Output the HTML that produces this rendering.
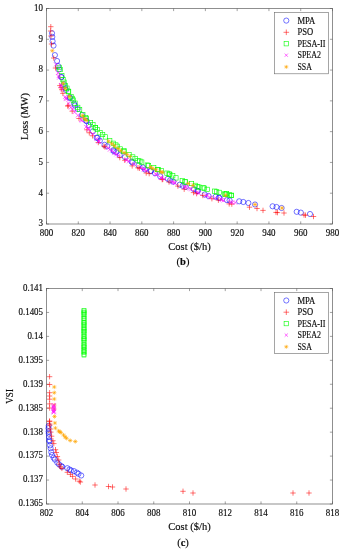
<!DOCTYPE html>
<html><head><meta charset="utf-8"><title>Pareto fronts</title>
<style>html,body{margin:0;padding:0;background:#fff}svg{display:block}text{stroke:#0a0a0a;stroke-width:0.15px}</style></head>
<body>
<svg width="343" height="550" viewBox="0 0 343 550" font-family='"Liberation Serif", "DejaVu Serif", serif' fill="#0a0a0a">
<rect width="343" height="550" fill="#fff"/>
<rect x="46.5" y="8.5" width="286.0" height="215.5" fill="none" stroke="#555" stroke-width="0.65"/>
<path d="M46.50 224.0v-2.6M46.50 8.5v2.6M78.28 224.0v-2.6M78.28 8.5v2.6M110.06 224.0v-2.6M110.06 8.5v2.6M141.83 224.0v-2.6M141.83 8.5v2.6M173.61 224.0v-2.6M173.61 8.5v2.6M205.39 224.0v-2.6M205.39 8.5v2.6M237.17 224.0v-2.6M237.17 8.5v2.6M268.94 224.0v-2.6M268.94 8.5v2.6M300.72 224.0v-2.6M300.72 8.5v2.6M332.50 224.0v-2.6M332.50 8.5v2.6M46.5 8.50h2.6M332.5 8.50h-2.6M46.5 39.29h2.6M332.5 39.29h-2.6M46.5 70.07h2.6M332.5 70.07h-2.6M46.5 100.86h2.6M332.5 100.86h-2.6M46.5 131.64h2.6M332.5 131.64h-2.6M46.5 162.43h2.6M332.5 162.43h-2.6M46.5 193.21h2.6M332.5 193.21h-2.6M46.5 224.00h2.6M332.5 224.00h-2.6" stroke="#555" stroke-width="0.55" fill="none"/>
<text x="46.5" y="236.2" text-anchor="middle" font-size="9.5" textLength="13.4" lengthAdjust="spacingAndGlyphs">800</text>
<text x="78.3" y="236.2" text-anchor="middle" font-size="9.5" textLength="13.4" lengthAdjust="spacingAndGlyphs">820</text>
<text x="110.1" y="236.2" text-anchor="middle" font-size="9.5" textLength="13.4" lengthAdjust="spacingAndGlyphs">840</text>
<text x="141.8" y="236.2" text-anchor="middle" font-size="9.5" textLength="13.4" lengthAdjust="spacingAndGlyphs">860</text>
<text x="173.6" y="236.2" text-anchor="middle" font-size="9.5" textLength="13.4" lengthAdjust="spacingAndGlyphs">880</text>
<text x="205.4" y="236.2" text-anchor="middle" font-size="9.5" textLength="13.4" lengthAdjust="spacingAndGlyphs">900</text>
<text x="237.2" y="236.2" text-anchor="middle" font-size="9.5" textLength="13.4" lengthAdjust="spacingAndGlyphs">920</text>
<text x="268.9" y="236.2" text-anchor="middle" font-size="9.5" textLength="13.4" lengthAdjust="spacingAndGlyphs">940</text>
<text x="300.7" y="236.2" text-anchor="middle" font-size="9.5" textLength="13.4" lengthAdjust="spacingAndGlyphs">960</text>
<text x="332.5" y="236.2" text-anchor="middle" font-size="9.5" textLength="13.4" lengthAdjust="spacingAndGlyphs">980</text>
<text x="43.0" y="10.8" text-anchor="end" font-size="9.5" textLength="8.9" lengthAdjust="spacingAndGlyphs">10</text>
<text x="43.0" y="41.6" text-anchor="end" font-size="9.5" textLength="4.5" lengthAdjust="spacingAndGlyphs">9</text>
<text x="43.0" y="72.4" text-anchor="end" font-size="9.5" textLength="4.5" lengthAdjust="spacingAndGlyphs">8</text>
<text x="43.0" y="103.2" text-anchor="end" font-size="9.5" textLength="4.5" lengthAdjust="spacingAndGlyphs">7</text>
<text x="43.0" y="133.9" text-anchor="end" font-size="9.5" textLength="4.5" lengthAdjust="spacingAndGlyphs">6</text>
<text x="43.0" y="164.7" text-anchor="end" font-size="9.5" textLength="4.5" lengthAdjust="spacingAndGlyphs">5</text>
<text x="43.0" y="195.5" text-anchor="end" font-size="9.5" textLength="4.5" lengthAdjust="spacingAndGlyphs">4</text>
<text x="43.0" y="226.3" text-anchor="end" font-size="9.5" textLength="4.5" lengthAdjust="spacingAndGlyphs">3</text>
<g><circle cx="52.0" cy="33.2" r="2.6" fill="none" stroke="#0000ff" stroke-width="0.55"/><circle cx="52.3" cy="36.9" r="2.6" fill="none" stroke="#0000ff" stroke-width="0.55"/><circle cx="52.6" cy="41.2" r="2.6" fill="none" stroke="#0000ff" stroke-width="0.55"/><circle cx="53.5" cy="45.6" r="2.6" fill="none" stroke="#0000ff" stroke-width="0.55"/><circle cx="54.9" cy="55.1" r="2.6" fill="none" stroke="#0000ff" stroke-width="0.55"/><circle cx="57.1" cy="61.0" r="2.6" fill="none" stroke="#0000ff" stroke-width="0.55"/><circle cx="58.2" cy="66.1" r="2.6" fill="none" stroke="#0000ff" stroke-width="0.55"/><circle cx="59.0" cy="69.5" r="2.6" fill="none" stroke="#0000ff" stroke-width="0.55"/><circle cx="61.4" cy="77.0" r="2.6" fill="none" stroke="#0000ff" stroke-width="0.55"/><circle cx="61.3" cy="77.1" r="2.6" fill="none" stroke="#0000ff" stroke-width="0.55"/><circle cx="63.9" cy="84.4" r="2.6" fill="none" stroke="#0000ff" stroke-width="0.55"/><circle cx="65.2" cy="88.2" r="2.6" fill="none" stroke="#0000ff" stroke-width="0.55"/><circle cx="65.9" cy="90.0" r="2.6" fill="none" stroke="#0000ff" stroke-width="0.55"/><circle cx="69.7" cy="97.2" r="2.6" fill="none" stroke="#0000ff" stroke-width="0.55"/><circle cx="69.9" cy="98.1" r="2.6" fill="none" stroke="#0000ff" stroke-width="0.55"/><circle cx="74.1" cy="103.8" r="2.6" fill="none" stroke="#0000ff" stroke-width="0.55"/><circle cx="74.9" cy="105.5" r="2.6" fill="none" stroke="#0000ff" stroke-width="0.55"/><circle cx="77.7" cy="109.1" r="2.6" fill="none" stroke="#0000ff" stroke-width="0.55"/><circle cx="82.0" cy="115.1" r="2.6" fill="none" stroke="#0000ff" stroke-width="0.55"/><circle cx="86.8" cy="121.2" r="2.6" fill="none" stroke="#0000ff" stroke-width="0.55"/><circle cx="85.9" cy="120.6" r="2.6" fill="none" stroke="#0000ff" stroke-width="0.55"/><circle cx="88.9" cy="125.2" r="2.6" fill="none" stroke="#0000ff" stroke-width="0.55"/><circle cx="92.9" cy="131.3" r="2.6" fill="none" stroke="#0000ff" stroke-width="0.55"/><circle cx="96.6" cy="137.7" r="2.6" fill="none" stroke="#0000ff" stroke-width="0.55"/><circle cx="97.5" cy="137.8" r="2.6" fill="none" stroke="#0000ff" stroke-width="0.55"/><circle cx="99.8" cy="140.7" r="2.6" fill="none" stroke="#0000ff" stroke-width="0.55"/><circle cx="107.3" cy="146.3" r="2.6" fill="none" stroke="#0000ff" stroke-width="0.55"/><circle cx="104.6" cy="144.8" r="2.6" fill="none" stroke="#0000ff" stroke-width="0.55"/><circle cx="113.8" cy="151.2" r="2.6" fill="none" stroke="#0000ff" stroke-width="0.55"/><circle cx="113.5" cy="150.2" r="2.6" fill="none" stroke="#0000ff" stroke-width="0.55"/><circle cx="116.2" cy="152.2" r="2.6" fill="none" stroke="#0000ff" stroke-width="0.55"/><circle cx="119.7" cy="155.1" r="2.6" fill="none" stroke="#0000ff" stroke-width="0.55"/><circle cx="125.0" cy="157.1" r="2.6" fill="none" stroke="#0000ff" stroke-width="0.55"/><circle cx="132.4" cy="162.5" r="2.6" fill="none" stroke="#0000ff" stroke-width="0.55"/><circle cx="131.6" cy="161.6" r="2.6" fill="none" stroke="#0000ff" stroke-width="0.55"/><circle cx="138.6" cy="165.3" r="2.6" fill="none" stroke="#0000ff" stroke-width="0.55"/><circle cx="143.1" cy="167.4" r="2.6" fill="none" stroke="#0000ff" stroke-width="0.55"/><circle cx="145.1" cy="169.5" r="2.6" fill="none" stroke="#0000ff" stroke-width="0.55"/><circle cx="150.5" cy="170.8" r="2.6" fill="none" stroke="#0000ff" stroke-width="0.55"/><circle cx="150.9" cy="171.2" r="2.6" fill="none" stroke="#0000ff" stroke-width="0.55"/><circle cx="155.0" cy="173.2" r="2.6" fill="none" stroke="#0000ff" stroke-width="0.55"/><circle cx="160.2" cy="176.3" r="2.6" fill="none" stroke="#0000ff" stroke-width="0.55"/><circle cx="167.9" cy="178.8" r="2.6" fill="none" stroke="#0000ff" stroke-width="0.55"/><circle cx="170.0" cy="180.3" r="2.6" fill="none" stroke="#0000ff" stroke-width="0.55"/><circle cx="173.3" cy="181.7" r="2.6" fill="none" stroke="#0000ff" stroke-width="0.55"/><circle cx="179.7" cy="184.7" r="2.6" fill="none" stroke="#0000ff" stroke-width="0.55"/><circle cx="182.8" cy="185.8" r="2.6" fill="none" stroke="#0000ff" stroke-width="0.55"/><circle cx="185.8" cy="187.0" r="2.6" fill="none" stroke="#0000ff" stroke-width="0.55"/><circle cx="193.9" cy="189.2" r="2.6" fill="none" stroke="#0000ff" stroke-width="0.55"/><circle cx="197.3" cy="190.8" r="2.6" fill="none" stroke="#0000ff" stroke-width="0.55"/><circle cx="197.9" cy="190.9" r="2.6" fill="none" stroke="#0000ff" stroke-width="0.55"/><circle cx="204.7" cy="194.5" r="2.6" fill="none" stroke="#0000ff" stroke-width="0.55"/><circle cx="208.5" cy="196.0" r="2.6" fill="none" stroke="#0000ff" stroke-width="0.55"/><circle cx="215.7" cy="196.7" r="2.6" fill="none" stroke="#0000ff" stroke-width="0.55"/><circle cx="218.8" cy="197.7" r="2.6" fill="none" stroke="#0000ff" stroke-width="0.55"/><circle cx="219.5" cy="197.9" r="2.6" fill="none" stroke="#0000ff" stroke-width="0.55"/><circle cx="229.6" cy="200.4" r="2.6" fill="none" stroke="#0000ff" stroke-width="0.55"/><circle cx="226.9" cy="200.1" r="2.6" fill="none" stroke="#0000ff" stroke-width="0.55"/><circle cx="239.2" cy="201.3" r="2.6" fill="none" stroke="#0000ff" stroke-width="0.55"/><circle cx="243.3" cy="202.0" r="2.6" fill="none" stroke="#0000ff" stroke-width="0.55"/><circle cx="248.4" cy="203.0" r="2.6" fill="none" stroke="#0000ff" stroke-width="0.55"/><circle cx="255.0" cy="204.5" r="2.6" fill="none" stroke="#0000ff" stroke-width="0.55"/><circle cx="272.6" cy="206.3" r="2.6" fill="none" stroke="#0000ff" stroke-width="0.55"/><circle cx="276.5" cy="207.0" r="2.6" fill="none" stroke="#0000ff" stroke-width="0.55"/><circle cx="281.6" cy="208.0" r="2.6" fill="none" stroke="#0000ff" stroke-width="0.55"/><circle cx="296.7" cy="211.8" r="2.6" fill="none" stroke="#0000ff" stroke-width="0.55"/><circle cx="300.8" cy="212.6" r="2.6" fill="none" stroke="#0000ff" stroke-width="0.55"/><circle cx="310.0" cy="214.0" r="2.6" fill="none" stroke="#0000ff" stroke-width="0.55"/><path d="M48.1 26.7H53.5M50.8 24.0V29.4" stroke="#ff0000" stroke-width="0.55" fill="none"/><path d="M47.9 31.0H53.3M50.6 28.3V33.7" stroke="#ff0000" stroke-width="0.55" fill="none"/><path d="M48.3 36.0H53.7M51.0 33.3V38.7" stroke="#ff0000" stroke-width="0.55" fill="none"/><path d="M48.8 44.0H54.2M51.5 41.3V46.7" stroke="#ff0000" stroke-width="0.55" fill="none"/><path d="M51.0 58.0H56.4M53.7 55.3V60.7" stroke="#ff0000" stroke-width="0.55" fill="none"/><path d="M52.8 68.0H58.2M55.5 65.3V70.7" stroke="#ff0000" stroke-width="0.55" fill="none"/><path d="M57.2 85.6H62.6M59.9 82.9V88.3" stroke="#ff0000" stroke-width="0.55" fill="none"/><path d="M65.0 106.0H70.4M67.7 103.3V108.7" stroke="#ff0000" stroke-width="0.55" fill="none"/><path d="M58.2 87.7H63.6M60.9 85.0V90.4" stroke="#ff0000" stroke-width="0.55" fill="none"/><path d="M59.0 89.7H64.4M61.7 87.0V92.4" stroke="#ff0000" stroke-width="0.55" fill="none"/><path d="M60.2 93.4H65.6M62.9 90.7V96.1" stroke="#ff0000" stroke-width="0.55" fill="none"/><path d="M65.6 105.7H71.0M68.3 103.0V108.4" stroke="#ff0000" stroke-width="0.55" fill="none"/><path d="M69.5 111.2H74.9M72.2 108.5V113.9" stroke="#ff0000" stroke-width="0.55" fill="none"/><path d="M76.3 118.5H81.7M79.0 115.8V121.2" stroke="#ff0000" stroke-width="0.55" fill="none"/><path d="M84.2 129.8H89.6M86.9 127.1V132.5" stroke="#ff0000" stroke-width="0.55" fill="none"/><path d="M86.6 132.8H92.0M89.3 130.1V135.5" stroke="#ff0000" stroke-width="0.55" fill="none"/><path d="M89.8 135.8H95.2M92.5 133.1V138.5" stroke="#ff0000" stroke-width="0.55" fill="none"/><path d="M95.6 142.5H101.0M98.3 139.8V145.2" stroke="#ff0000" stroke-width="0.55" fill="none"/><path d="M102.2 146.9H107.6M104.9 144.2V149.6" stroke="#ff0000" stroke-width="0.55" fill="none"/><path d="M101.2 146.1H106.6M103.9 143.4V148.8" stroke="#ff0000" stroke-width="0.55" fill="none"/><path d="M117.1 157.6H122.5M119.8 154.9V160.3" stroke="#ff0000" stroke-width="0.55" fill="none"/><path d="M122.1 160.3H127.5M124.8 157.6V163.0" stroke="#ff0000" stroke-width="0.55" fill="none"/><path d="M129.5 165.9H134.9M132.2 163.2V168.6" stroke="#ff0000" stroke-width="0.55" fill="none"/><path d="M135.2 167.8H140.6M137.9 165.1V170.5" stroke="#ff0000" stroke-width="0.55" fill="none"/><path d="M136.7 168.3H142.1M139.4 165.6V171.0" stroke="#ff0000" stroke-width="0.55" fill="none"/><path d="M143.5 173.0H148.9M146.2 170.3V175.7" stroke="#ff0000" stroke-width="0.55" fill="none"/><path d="M146.5 173.6H151.9M149.2 170.9V176.3" stroke="#ff0000" stroke-width="0.55" fill="none"/><path d="M160.1 179.3H165.5M162.8 176.6V182.0" stroke="#ff0000" stroke-width="0.55" fill="none"/><path d="M159.5 179.6H164.9M162.2 176.9V182.3" stroke="#ff0000" stroke-width="0.55" fill="none"/><path d="M166.3 182.0H171.7M169.0 179.3V184.7" stroke="#ff0000" stroke-width="0.55" fill="none"/><path d="M175.2 186.1H180.6M177.9 183.4V188.8" stroke="#ff0000" stroke-width="0.55" fill="none"/><path d="M181.5 189.2H186.9M184.2 186.5V191.9" stroke="#ff0000" stroke-width="0.55" fill="none"/><path d="M190.8 192.6H196.2M193.5 189.9V195.3" stroke="#ff0000" stroke-width="0.55" fill="none"/><path d="M193.9 193.6H199.3M196.6 190.9V196.3" stroke="#ff0000" stroke-width="0.55" fill="none"/><path d="M200.1 195.5H205.5M202.8 192.8V198.2" stroke="#ff0000" stroke-width="0.55" fill="none"/><path d="M209.2 198.7H214.6M211.9 196.0V201.4" stroke="#ff0000" stroke-width="0.55" fill="none"/><path d="M215.7 200.2H221.1M218.4 197.5V202.9" stroke="#ff0000" stroke-width="0.55" fill="none"/><path d="M226.5 203.9H231.9M229.2 201.2V206.6" stroke="#ff0000" stroke-width="0.55" fill="none"/><path d="M229.1 204.1H234.5M231.8 201.4V206.8" stroke="#ff0000" stroke-width="0.55" fill="none"/><path d="M246.8 207.2H252.2M249.5 204.5V209.9" stroke="#ff0000" stroke-width="0.55" fill="none"/><path d="M254.3 208.5H259.7M257.0 205.8V211.2" stroke="#ff0000" stroke-width="0.55" fill="none"/><path d="M260.3 210.4H265.7M263.0 207.7V213.1" stroke="#ff0000" stroke-width="0.55" fill="none"/><path d="M273.3 212.4H278.7M276.0 209.7V215.1" stroke="#ff0000" stroke-width="0.55" fill="none"/><path d="M274.8 212.6H280.2M277.5 209.9V215.3" stroke="#ff0000" stroke-width="0.55" fill="none"/><path d="M281.3 213.0H286.7M284.0 210.3V215.7" stroke="#ff0000" stroke-width="0.55" fill="none"/><path d="M301.3 215.0H306.7M304.0 212.3V217.7" stroke="#ff0000" stroke-width="0.55" fill="none"/><path d="M302.8 215.2H308.2M305.5 212.5V217.9" stroke="#ff0000" stroke-width="0.55" fill="none"/><path d="M310.8 216.5H316.2M313.5 213.8V219.2" stroke="#ff0000" stroke-width="0.55" fill="none"/><rect x="57.0" y="65.2" width="4.4" height="4.4" fill="none" stroke="#00ff00" stroke-width="0.6"/><rect x="57.9" y="67.3" width="4.4" height="4.4" fill="none" stroke="#00ff00" stroke-width="0.6"/><rect x="59.6" y="73.3" width="4.4" height="4.4" fill="none" stroke="#00ff00" stroke-width="0.6"/><rect x="60.8" y="77.4" width="4.4" height="4.4" fill="none" stroke="#00ff00" stroke-width="0.6"/><rect x="61.8" y="80.0" width="4.4" height="4.4" fill="none" stroke="#00ff00" stroke-width="0.6"/><rect x="63.2" y="83.3" width="4.4" height="4.4" fill="none" stroke="#00ff00" stroke-width="0.6"/><rect x="64.7" y="86.0" width="4.4" height="4.4" fill="none" stroke="#00ff00" stroke-width="0.6"/><rect x="66.0" y="89.0" width="4.4" height="4.4" fill="none" stroke="#00ff00" stroke-width="0.6"/><rect x="66.4" y="89.5" width="4.4" height="4.4" fill="none" stroke="#00ff00" stroke-width="0.6"/><rect x="68.8" y="94.6" width="4.4" height="4.4" fill="none" stroke="#00ff00" stroke-width="0.6"/><rect x="70.1" y="96.2" width="4.4" height="4.4" fill="none" stroke="#00ff00" stroke-width="0.6"/><rect x="71.1" y="97.9" width="4.4" height="4.4" fill="none" stroke="#00ff00" stroke-width="0.6"/><rect x="72.8" y="101.0" width="4.4" height="4.4" fill="none" stroke="#00ff00" stroke-width="0.6"/><rect x="75.5" y="105.2" width="4.4" height="4.4" fill="none" stroke="#00ff00" stroke-width="0.6"/><rect x="77.4" y="107.3" width="4.4" height="4.4" fill="none" stroke="#00ff00" stroke-width="0.6"/><rect x="80.6" y="112.4" width="4.4" height="4.4" fill="none" stroke="#00ff00" stroke-width="0.6"/><rect x="83.5" y="115.5" width="4.4" height="4.4" fill="none" stroke="#00ff00" stroke-width="0.6"/><rect x="84.2" y="116.3" width="4.4" height="4.4" fill="none" stroke="#00ff00" stroke-width="0.6"/><rect x="88.3" y="120.3" width="4.4" height="4.4" fill="none" stroke="#00ff00" stroke-width="0.6"/><rect x="90.7" y="122.4" width="4.4" height="4.4" fill="none" stroke="#00ff00" stroke-width="0.6"/><rect x="92.9" y="125.4" width="4.4" height="4.4" fill="none" stroke="#00ff00" stroke-width="0.6"/><rect x="93.3" y="125.5" width="4.4" height="4.4" fill="none" stroke="#00ff00" stroke-width="0.6"/><rect x="95.1" y="127.3" width="4.4" height="4.4" fill="none" stroke="#00ff00" stroke-width="0.6"/><rect x="97.8" y="130.5" width="4.4" height="4.4" fill="none" stroke="#00ff00" stroke-width="0.6"/><rect x="100.4" y="132.3" width="4.4" height="4.4" fill="none" stroke="#00ff00" stroke-width="0.6"/><rect x="103.2" y="134.7" width="4.4" height="4.4" fill="none" stroke="#00ff00" stroke-width="0.6"/><rect x="107.5" y="138.4" width="4.4" height="4.4" fill="none" stroke="#00ff00" stroke-width="0.6"/><rect x="111.2" y="141.1" width="4.4" height="4.4" fill="none" stroke="#00ff00" stroke-width="0.6"/><rect x="113.6" y="142.8" width="4.4" height="4.4" fill="none" stroke="#00ff00" stroke-width="0.6"/><rect x="114.9" y="144.1" width="4.4" height="4.4" fill="none" stroke="#00ff00" stroke-width="0.6"/><rect x="118.2" y="146.8" width="4.4" height="4.4" fill="none" stroke="#00ff00" stroke-width="0.6"/><rect x="121.7" y="149.3" width="4.4" height="4.4" fill="none" stroke="#00ff00" stroke-width="0.6"/><rect x="121.7" y="148.5" width="4.4" height="4.4" fill="none" stroke="#00ff00" stroke-width="0.6"/><rect x="126.8" y="152.4" width="4.4" height="4.4" fill="none" stroke="#00ff00" stroke-width="0.6"/><rect x="130.5" y="154.8" width="4.4" height="4.4" fill="none" stroke="#00ff00" stroke-width="0.6"/><rect x="132.9" y="156.3" width="4.4" height="4.4" fill="none" stroke="#00ff00" stroke-width="0.6"/><rect x="135.8" y="158.4" width="4.4" height="4.4" fill="none" stroke="#00ff00" stroke-width="0.6"/><rect x="137.7" y="159.0" width="4.4" height="4.4" fill="none" stroke="#00ff00" stroke-width="0.6"/><rect x="139.5" y="159.9" width="4.4" height="4.4" fill="none" stroke="#00ff00" stroke-width="0.6"/><rect x="145.2" y="162.9" width="4.4" height="4.4" fill="none" stroke="#00ff00" stroke-width="0.6"/><rect x="146.3" y="163.6" width="4.4" height="4.4" fill="none" stroke="#00ff00" stroke-width="0.6"/><rect x="151.5" y="165.4" width="4.4" height="4.4" fill="none" stroke="#00ff00" stroke-width="0.6"/><rect x="155.4" y="167.3" width="4.4" height="4.4" fill="none" stroke="#00ff00" stroke-width="0.6"/><rect x="156.0" y="167.4" width="4.4" height="4.4" fill="none" stroke="#00ff00" stroke-width="0.6"/><rect x="159.2" y="168.5" width="4.4" height="4.4" fill="none" stroke="#00ff00" stroke-width="0.6"/><rect x="164.8" y="171.0" width="4.4" height="4.4" fill="none" stroke="#00ff00" stroke-width="0.6"/><rect x="166.9" y="171.8" width="4.4" height="4.4" fill="none" stroke="#00ff00" stroke-width="0.6"/><rect x="167.6" y="172.2" width="4.4" height="4.4" fill="none" stroke="#00ff00" stroke-width="0.6"/><rect x="170.5" y="173.6" width="4.4" height="4.4" fill="none" stroke="#00ff00" stroke-width="0.6"/><rect x="173.7" y="175.7" width="4.4" height="4.4" fill="none" stroke="#00ff00" stroke-width="0.6"/><rect x="180.1" y="178.3" width="4.4" height="4.4" fill="none" stroke="#00ff00" stroke-width="0.6"/><rect x="182.8" y="179.6" width="4.4" height="4.4" fill="none" stroke="#00ff00" stroke-width="0.6"/><rect x="183.1" y="179.8" width="4.4" height="4.4" fill="none" stroke="#00ff00" stroke-width="0.6"/><rect x="189.3" y="181.3" width="4.4" height="4.4" fill="none" stroke="#00ff00" stroke-width="0.6"/><rect x="193.2" y="183.2" width="4.4" height="4.4" fill="none" stroke="#00ff00" stroke-width="0.6"/><rect x="194.9" y="184.4" width="4.4" height="4.4" fill="none" stroke="#00ff00" stroke-width="0.6"/><rect x="196.7" y="184.9" width="4.4" height="4.4" fill="none" stroke="#00ff00" stroke-width="0.6"/><rect x="200.8" y="185.6" width="4.4" height="4.4" fill="none" stroke="#00ff00" stroke-width="0.6"/><rect x="202.2" y="186.0" width="4.4" height="4.4" fill="none" stroke="#00ff00" stroke-width="0.6"/><rect x="204.9" y="187.2" width="4.4" height="4.4" fill="none" stroke="#00ff00" stroke-width="0.6"/><rect x="212.6" y="189.0" width="4.4" height="4.4" fill="none" stroke="#00ff00" stroke-width="0.6"/><rect x="214.4" y="189.7" width="4.4" height="4.4" fill="none" stroke="#00ff00" stroke-width="0.6"/><rect x="217.1" y="190.2" width="4.4" height="4.4" fill="none" stroke="#00ff00" stroke-width="0.6"/><rect x="222.4" y="191.8" width="4.4" height="4.4" fill="none" stroke="#00ff00" stroke-width="0.6"/><rect x="223.5" y="192.1" width="4.4" height="4.4" fill="none" stroke="#00ff00" stroke-width="0.6"/><rect x="228.8" y="193.3" width="4.4" height="4.4" fill="none" stroke="#00ff00" stroke-width="0.6"/><rect x="224.3" y="191.4" width="4.4" height="4.4" fill="none" stroke="#00ff00" stroke-width="0.6"/><rect x="227.3" y="192.7" width="4.4" height="4.4" fill="none" stroke="#00ff00" stroke-width="0.6"/><rect x="229.3" y="193.1" width="4.4" height="4.4" fill="none" stroke="#00ff00" stroke-width="0.6"/><path d="M54.0 62.5L58.0 66.5M54.0 66.5L58.0 62.5" stroke="#ff00ff" stroke-width="0.6" fill="none"/><path d="M55.9 71.0L59.9 75.0M55.9 75.0L59.9 71.0" stroke="#ff00ff" stroke-width="0.6" fill="none"/><path d="M57.1 75.6L61.1 79.6M57.1 79.6L61.1 75.6" stroke="#ff00ff" stroke-width="0.6" fill="none"/><path d="M56.7 74.1L60.7 78.1M56.7 78.1L60.7 74.1" stroke="#ff00ff" stroke-width="0.6" fill="none"/><path d="M59.2 83.2L63.2 87.2M59.2 87.2L63.2 83.2" stroke="#ff00ff" stroke-width="0.6" fill="none"/><path d="M59.2 83.7L63.2 87.7M59.2 87.7L63.2 83.7" stroke="#ff00ff" stroke-width="0.6" fill="none"/><path d="M60.5 87.4L64.5 91.4M60.5 91.4L64.5 87.4" stroke="#ff00ff" stroke-width="0.6" fill="none"/><path d="M63.3 94.9L67.3 98.9M63.3 98.9L67.3 94.9" stroke="#ff00ff" stroke-width="0.6" fill="none"/><path d="M64.3 97.1L68.3 101.1M64.3 101.1L68.3 97.1" stroke="#ff00ff" stroke-width="0.6" fill="none"/><path d="M63.9 96.3L67.9 100.3M63.9 100.3L67.9 96.3" stroke="#ff00ff" stroke-width="0.6" fill="none"/><path d="M66.5 101.2L70.5 105.2M66.5 105.2L70.5 101.2" stroke="#ff00ff" stroke-width="0.6" fill="none"/><path d="M68.8 105.5L72.8 109.5M68.8 109.5L72.8 105.5" stroke="#ff00ff" stroke-width="0.6" fill="none"/><path d="M70.6 107.1L74.6 111.1M70.6 111.1L74.6 107.1" stroke="#ff00ff" stroke-width="0.6" fill="none"/><path d="M72.6 110.1L76.6 114.1M72.6 114.1L76.6 110.1" stroke="#ff00ff" stroke-width="0.6" fill="none"/><path d="M75.9 113.4L79.9 117.4M75.9 117.4L79.9 113.4" stroke="#ff00ff" stroke-width="0.6" fill="none"/><path d="M79.9 118.6L83.9 122.6M79.9 122.6L83.9 118.6" stroke="#ff00ff" stroke-width="0.6" fill="none"/><path d="M79.2 118.0L83.2 122.0M79.2 122.0L83.2 118.0" stroke="#ff00ff" stroke-width="0.6" fill="none"/><path d="M84.1 124.9L88.1 128.9M84.1 128.9L88.1 124.9" stroke="#ff00ff" stroke-width="0.6" fill="none"/><path d="M86.1 126.0L90.1 130.0M86.1 130.0L90.1 126.0" stroke="#ff00ff" stroke-width="0.6" fill="none"/><path d="M86.6 127.6L90.6 131.6M86.6 131.6L90.6 127.6" stroke="#ff00ff" stroke-width="0.6" fill="none"/><path d="M90.7 131.9L94.7 135.9M90.7 135.9L94.7 131.9" stroke="#ff00ff" stroke-width="0.6" fill="none"/><path d="M94.5 136.8L98.5 140.8M94.5 140.8L98.5 136.8" stroke="#ff00ff" stroke-width="0.6" fill="none"/><path d="M96.7 139.4L100.7 143.4M96.7 143.4L100.7 139.4" stroke="#ff00ff" stroke-width="0.6" fill="none"/><path d="M97.2 139.2L101.2 143.2M97.2 143.2L101.2 139.2" stroke="#ff00ff" stroke-width="0.6" fill="none"/><path d="M105.9 145.9L109.9 149.9M105.9 149.9L109.9 145.9" stroke="#ff00ff" stroke-width="0.6" fill="none"/><path d="M107.9 147.6L111.9 151.6M107.9 151.6L111.9 147.6" stroke="#ff00ff" stroke-width="0.6" fill="none"/><path d="M112.2 151.1L116.2 155.1M112.2 155.1L116.2 151.1" stroke="#ff00ff" stroke-width="0.6" fill="none"/><path d="M110.1 148.7L114.1 152.7M110.1 152.7L114.1 148.7" stroke="#ff00ff" stroke-width="0.6" fill="none"/><path d="M114.4 152.3L118.4 156.3M114.4 156.3L118.4 152.3" stroke="#ff00ff" stroke-width="0.6" fill="none"/><path d="M116.3 153.4L120.3 157.4M116.3 157.4L120.3 153.4" stroke="#ff00ff" stroke-width="0.6" fill="none"/><path d="M124.5 158.1L128.5 162.1M124.5 162.1L128.5 158.1" stroke="#ff00ff" stroke-width="0.6" fill="none"/><path d="M124.6 157.8L128.6 161.8M124.6 161.8L128.6 157.8" stroke="#ff00ff" stroke-width="0.6" fill="none"/><path d="M127.0 159.3L131.0 163.3M127.0 163.3L131.0 159.3" stroke="#ff00ff" stroke-width="0.6" fill="none"/><path d="M132.2 162.1L136.2 166.1M132.2 166.1L136.2 162.1" stroke="#ff00ff" stroke-width="0.6" fill="none"/><path d="M139.1 165.6L143.1 169.6M139.1 169.6L143.1 165.6" stroke="#ff00ff" stroke-width="0.6" fill="none"/><path d="M142.0 167.0L146.0 171.0M142.0 171.0L146.0 167.0" stroke="#ff00ff" stroke-width="0.6" fill="none"/><path d="M141.8 167.8L145.8 171.8M141.8 171.8L145.8 167.8" stroke="#ff00ff" stroke-width="0.6" fill="none"/><path d="M144.6 168.4L148.6 172.4M144.6 172.4L148.6 168.4" stroke="#ff00ff" stroke-width="0.6" fill="none"/><path d="M153.5 172.1L157.5 176.1M153.5 176.1L157.5 172.1" stroke="#ff00ff" stroke-width="0.6" fill="none"/><path d="M154.8 172.6L158.8 176.6M154.8 176.6L158.8 172.6" stroke="#ff00ff" stroke-width="0.6" fill="none"/><path d="M159.2 175.8L163.2 179.8M159.2 179.8L163.2 175.8" stroke="#ff00ff" stroke-width="0.6" fill="none"/><path d="M158.6 175.5L162.6 179.5M158.6 179.5L162.6 175.5" stroke="#ff00ff" stroke-width="0.6" fill="none"/><path d="M161.9 176.9L165.9 180.9M161.9 180.9L165.9 176.9" stroke="#ff00ff" stroke-width="0.6" fill="none"/><path d="M169.9 179.9L173.9 183.9M169.9 183.9L173.9 179.9" stroke="#ff00ff" stroke-width="0.6" fill="none"/><path d="M171.7 180.5L175.7 184.5M171.7 184.5L175.7 180.5" stroke="#ff00ff" stroke-width="0.6" fill="none"/><path d="M173.0 181.0L177.0 185.0M173.0 185.0L177.0 181.0" stroke="#ff00ff" stroke-width="0.6" fill="none"/><path d="M182.8 184.9L186.8 188.9M182.8 188.9L186.8 184.9" stroke="#ff00ff" stroke-width="0.6" fill="none"/><path d="M184.3 185.1L188.3 189.1M184.3 189.1L188.3 185.1" stroke="#ff00ff" stroke-width="0.6" fill="none"/><path d="M189.2 187.3L193.2 191.3M189.2 191.3L193.2 187.3" stroke="#ff00ff" stroke-width="0.6" fill="none"/><path d="M187.8 186.6L191.8 190.6M187.8 190.6L191.8 186.6" stroke="#ff00ff" stroke-width="0.6" fill="none"/><path d="M196.9 191.2L200.9 195.2M196.9 195.2L200.9 191.2" stroke="#ff00ff" stroke-width="0.6" fill="none"/><path d="M195.1 190.4L199.1 194.4M195.1 194.4L199.1 190.4" stroke="#ff00ff" stroke-width="0.6" fill="none"/><path d="M204.2 193.6L208.2 197.6M204.2 197.6L208.2 193.6" stroke="#ff00ff" stroke-width="0.6" fill="none"/><path d="M205.1 193.5L209.1 197.5M205.1 197.5L209.1 193.5" stroke="#ff00ff" stroke-width="0.6" fill="none"/><path d="M208.0 195.4L212.0 199.4M208.0 199.4L212.0 195.4" stroke="#ff00ff" stroke-width="0.6" fill="none"/><path d="M213.4 196.0L217.4 200.0M213.4 200.0L217.4 196.0" stroke="#ff00ff" stroke-width="0.6" fill="none"/><path d="M219.9 197.9L223.9 201.9M219.9 201.9L223.9 197.9" stroke="#ff00ff" stroke-width="0.6" fill="none"/><path d="M218.9 197.1L222.9 201.1M218.9 201.1L222.9 197.1" stroke="#ff00ff" stroke-width="0.6" fill="none"/><path d="M221.7 198.4L225.7 202.4M221.7 202.4L225.7 198.4" stroke="#ff00ff" stroke-width="0.6" fill="none"/><path d="M228.5 200.1L232.5 204.1M228.5 204.1L232.5 200.1" stroke="#ff00ff" stroke-width="0.6" fill="none"/><path d="M230.2 200.5L234.2 204.5M230.2 204.5L234.2 200.5" stroke="#ff00ff" stroke-width="0.6" fill="none"/><path d="M233.2 200.6L237.2 204.6M233.2 204.6L237.2 200.6" stroke="#ff00ff" stroke-width="0.6" fill="none"/><path d="M50.1 50.7H54.4M52.3 48.6V52.9M50.8 49.2L53.8 52.2M50.8 52.2L53.8 49.2" stroke="#ffa500" stroke-width="0.6" fill="none"/><path d="M61.0 83.2H65.3M63.2 81.1V85.4M61.6 81.7L64.7 84.8M61.6 84.8L64.7 81.7" stroke="#ffa500" stroke-width="0.6" fill="none"/><path d="M63.2 88.3H67.5M65.4 86.2V90.5M63.8 86.8L66.9 89.9M63.8 89.9L66.9 86.8" stroke="#ffa500" stroke-width="0.6" fill="none"/><path d="M67.2 96.5H71.5M69.4 94.3V98.6M67.8 94.9L70.9 98.0M67.8 98.0L70.9 94.9" stroke="#ffa500" stroke-width="0.6" fill="none"/><path d="M80.3 115.6H84.6M82.5 113.5V117.8M80.9 114.1L84.0 117.2M80.9 117.2L84.0 114.1" stroke="#ffa500" stroke-width="0.6" fill="none"/><path d="M82.5 118.6H86.8M84.6 116.5V120.8M83.1 117.1L86.2 120.2M83.1 120.2L86.2 117.1" stroke="#ffa500" stroke-width="0.6" fill="none"/><path d="M84.2 120.4H88.5M86.3 118.2V122.5M84.8 118.8L87.9 121.9M84.8 121.9L87.9 118.8" stroke="#ffa500" stroke-width="0.6" fill="none"/><path d="M106.4 141.2H110.7M108.6 139.1V143.4M107.0 139.7L110.1 142.8M107.0 142.8L110.1 139.7" stroke="#ffa500" stroke-width="0.6" fill="none"/><path d="M109.7 143.8H114.0M111.9 141.6V145.9M110.3 142.2L113.4 145.3M110.3 145.3L113.4 142.2" stroke="#ffa500" stroke-width="0.6" fill="none"/><path d="M112.4 145.9H116.7M114.6 143.7V148.0M113.0 144.3L116.1 147.4M113.0 147.4L116.1 144.3" stroke="#ffa500" stroke-width="0.6" fill="none"/><path d="M115.8 148.5H120.1M117.9 146.4V150.7M116.4 147.0L119.5 150.1M116.4 150.1L119.5 147.0" stroke="#ffa500" stroke-width="0.6" fill="none"/><path d="M118.5 150.6H122.8M120.7 148.4V152.7M119.1 149.0L122.2 152.1M119.1 152.1L122.2 149.0" stroke="#ffa500" stroke-width="0.6" fill="none"/><path d="M122.0 152.6H126.3M124.1 150.5V154.8M122.6 151.1L125.7 154.2M122.6 154.2L125.7 151.1" stroke="#ffa500" stroke-width="0.6" fill="none"/><path d="M124.8 154.4H129.1M127.0 152.2V156.5M125.4 152.8L128.5 155.9M125.4 155.9L128.5 152.8" stroke="#ffa500" stroke-width="0.6" fill="none"/><path d="M127.8 156.5H132.1M129.9 154.4V158.7M128.4 155.0L131.5 158.1M128.4 158.1L131.5 155.0" stroke="#ffa500" stroke-width="0.6" fill="none"/><path d="M148.3 167.3H152.6M150.4 165.1V169.4M148.9 165.8L152.0 168.8M148.9 168.8L152.0 165.8" stroke="#ffa500" stroke-width="0.6" fill="none"/><path d="M150.7 168.4H155.0M152.8 166.2V170.5M151.3 166.8L154.4 169.9M151.3 169.9L154.4 166.8" stroke="#ffa500" stroke-width="0.6" fill="none"/><path d="M153.9 169.8H158.2M156.1 167.7V172.0M154.5 168.3L157.6 171.4M154.5 171.4L157.6 168.3" stroke="#ffa500" stroke-width="0.6" fill="none"/><path d="M158.7 171.7H163.0M160.9 169.6V173.9M159.3 170.2L162.4 173.3M159.3 173.3L162.4 170.2" stroke="#ffa500" stroke-width="0.6" fill="none"/><path d="M160.4 172.4H164.7M162.6 170.3V174.6M161.0 170.9L164.1 173.9M161.0 173.9L164.1 170.9" stroke="#ffa500" stroke-width="0.6" fill="none"/><path d="M186.0 183.5H190.3M188.2 181.4V185.7M186.6 182.0L189.7 185.1M186.6 185.1L189.7 182.0" stroke="#ffa500" stroke-width="0.6" fill="none"/><path d="M190.8 185.4H195.1M192.9 183.2V187.5M191.4 183.8L194.5 186.9M191.4 186.9L194.5 183.8" stroke="#ffa500" stroke-width="0.6" fill="none"/><path d="M223.5 195.3H227.8M225.7 193.1V197.4M224.1 193.7L227.2 196.8M224.1 196.8L227.2 193.7" stroke="#ffa500" stroke-width="0.6" fill="none"/><path d="M252.8 204.5H257.1M255.0 202.3V206.7M253.5 203.0L256.5 206.0M253.5 206.0L256.5 203.0" stroke="#ffa500" stroke-width="0.6" fill="none"/><path d="M279.9 208.0H284.1M282.0 205.8V210.2M280.5 206.5L283.5 209.5M280.5 209.5L283.5 206.5" stroke="#ffa500" stroke-width="0.6" fill="none"/></g>
<rect x="274.5" y="12.5" width="54.0" height="61.3" fill="#fff" stroke="#6a6a6a" stroke-width="0.6"/>
<circle cx="286.3" cy="20.6" r="2.6" fill="none" stroke="#0000ff" stroke-width="0.55"/>
<text x="297.5" y="23.6" font-size="9.8" textLength="17.8" lengthAdjust="spacingAndGlyphs">MPA</text>
<path d="M283.5 32.3H289.1M286.3 29.5V35.1" stroke="#ff0000" stroke-width="0.55" fill="none"/>
<text x="297.5" y="35.3" font-size="9.8" textLength="15.7" lengthAdjust="spacingAndGlyphs">PSO</text>
<rect x="284.1" y="41.5" width="4.4" height="4.4" fill="none" stroke="#00ff00" stroke-width="0.6"/>
<text x="297.5" y="46.7" font-size="9.8" textLength="28.0" lengthAdjust="spacingAndGlyphs">PESA-II</text>
<path d="M284.7 53.6L287.9 56.8M284.7 56.8L287.9 53.6" stroke="#ff00ff" stroke-width="0.6" fill="none"/>
<text x="297.5" y="58.2" font-size="9.8" textLength="23.5" lengthAdjust="spacingAndGlyphs">SPEA2</text>
<path d="M284.3 66.9H288.3M286.3 64.9V68.9M284.9 65.5L287.7 68.3M284.9 68.3L287.7 65.5" stroke="#ffa500" stroke-width="0.6" fill="none"/>
<text x="297.5" y="69.9" font-size="9.8" textLength="14.3" lengthAdjust="spacingAndGlyphs">SSA</text>
<text x="189.5" y="249.8" text-anchor="middle" font-size="10.5">Cost ($/h)</text>
<text x="183" y="264.6" text-anchor="middle" font-size="10.5">(<tspan font-weight="bold">b</tspan>)</text>
<text transform="translate(28.2,116.5) rotate(-90)" text-anchor="middle" font-size="10.5" textLength="47" lengthAdjust="spacingAndGlyphs">Loss (MW)</text>
<rect x="46.5" y="288.5" width="286.0" height="215.5" fill="none" stroke="#555" stroke-width="0.65"/>
<path d="M46.50 504.0v-2.6M46.50 288.5v2.6M82.25 504.0v-2.6M82.25 288.5v2.6M118.00 504.0v-2.6M118.00 288.5v2.6M153.75 504.0v-2.6M153.75 288.5v2.6M189.50 504.0v-2.6M189.50 288.5v2.6M225.25 504.0v-2.6M225.25 288.5v2.6M261.00 504.0v-2.6M261.00 288.5v2.6M296.75 504.0v-2.6M296.75 288.5v2.6M332.50 504.0v-2.6M332.50 288.5v2.6M46.5 288.50h2.6M332.5 288.50h-2.6M46.5 312.44h2.6M332.5 312.44h-2.6M46.5 336.39h2.6M332.5 336.39h-2.6M46.5 360.33h2.6M332.5 360.33h-2.6M46.5 384.28h2.6M332.5 384.28h-2.6M46.5 408.22h2.6M332.5 408.22h-2.6M46.5 432.17h2.6M332.5 432.17h-2.6M46.5 456.11h2.6M332.5 456.11h-2.6M46.5 480.06h2.6M332.5 480.06h-2.6M46.5 504.00h2.6M332.5 504.00h-2.6" stroke="#555" stroke-width="0.55" fill="none"/>
<text x="46.5" y="516.2" text-anchor="middle" font-size="9.5" textLength="13.4" lengthAdjust="spacingAndGlyphs">802</text>
<text x="82.2" y="516.2" text-anchor="middle" font-size="9.5" textLength="13.4" lengthAdjust="spacingAndGlyphs">804</text>
<text x="118.0" y="516.2" text-anchor="middle" font-size="9.5" textLength="13.4" lengthAdjust="spacingAndGlyphs">806</text>
<text x="153.8" y="516.2" text-anchor="middle" font-size="9.5" textLength="13.4" lengthAdjust="spacingAndGlyphs">808</text>
<text x="189.5" y="516.2" text-anchor="middle" font-size="9.5" textLength="13.4" lengthAdjust="spacingAndGlyphs">810</text>
<text x="225.2" y="516.2" text-anchor="middle" font-size="9.5" textLength="13.4" lengthAdjust="spacingAndGlyphs">812</text>
<text x="261.0" y="516.2" text-anchor="middle" font-size="9.5" textLength="13.4" lengthAdjust="spacingAndGlyphs">814</text>
<text x="296.8" y="516.2" text-anchor="middle" font-size="9.5" textLength="13.4" lengthAdjust="spacingAndGlyphs">816</text>
<text x="332.5" y="516.2" text-anchor="middle" font-size="9.5" textLength="13.4" lengthAdjust="spacingAndGlyphs">818</text>
<text x="43.0" y="290.8" text-anchor="end" font-size="9.5" textLength="20.0" lengthAdjust="spacingAndGlyphs">0.141</text>
<text x="43.0" y="314.7" text-anchor="end" font-size="9.5" textLength="24.5" lengthAdjust="spacingAndGlyphs">0.1405</text>
<text x="43.0" y="338.7" text-anchor="end" font-size="9.5" textLength="15.6" lengthAdjust="spacingAndGlyphs">0.14</text>
<text x="43.0" y="362.6" text-anchor="end" font-size="9.5" textLength="24.5" lengthAdjust="spacingAndGlyphs">0.1395</text>
<text x="43.0" y="386.6" text-anchor="end" font-size="9.5" textLength="20.0" lengthAdjust="spacingAndGlyphs">0.139</text>
<text x="43.0" y="410.5" text-anchor="end" font-size="9.5" textLength="24.5" lengthAdjust="spacingAndGlyphs">0.1385</text>
<text x="43.0" y="434.5" text-anchor="end" font-size="9.5" textLength="20.0" lengthAdjust="spacingAndGlyphs">0.138</text>
<text x="43.0" y="458.4" text-anchor="end" font-size="9.5" textLength="24.5" lengthAdjust="spacingAndGlyphs">0.1375</text>
<text x="43.0" y="482.4" text-anchor="end" font-size="9.5" textLength="20.0" lengthAdjust="spacingAndGlyphs">0.137</text>
<text x="43.0" y="506.3" text-anchor="end" font-size="9.5" textLength="24.5" lengthAdjust="spacingAndGlyphs">0.1365</text>
<g><circle cx="48.7" cy="425.9" r="2.6" fill="none" stroke="#0000ff" stroke-width="0.55"/><circle cx="48.5" cy="428.3" r="2.6" fill="none" stroke="#0000ff" stroke-width="0.55"/><circle cx="48.6" cy="431.5" r="2.6" fill="none" stroke="#0000ff" stroke-width="0.55"/><circle cx="48.8" cy="433.7" r="2.6" fill="none" stroke="#0000ff" stroke-width="0.55"/><circle cx="49.0" cy="437.0" r="2.6" fill="none" stroke="#0000ff" stroke-width="0.55"/><circle cx="49.3" cy="440.2" r="2.6" fill="none" stroke="#0000ff" stroke-width="0.55"/><circle cx="49.5" cy="441.4" r="2.6" fill="none" stroke="#0000ff" stroke-width="0.55"/><circle cx="50.0" cy="445.4" r="2.6" fill="none" stroke="#0000ff" stroke-width="0.55"/><circle cx="50.6" cy="448.3" r="2.6" fill="none" stroke="#0000ff" stroke-width="0.55"/><circle cx="51.3" cy="452.2" r="2.6" fill="none" stroke="#0000ff" stroke-width="0.55"/><circle cx="52.0" cy="455.0" r="2.6" fill="none" stroke="#0000ff" stroke-width="0.55"/><circle cx="53.6" cy="457.7" r="2.6" fill="none" stroke="#0000ff" stroke-width="0.55"/><circle cx="54.9" cy="459.6" r="2.6" fill="none" stroke="#0000ff" stroke-width="0.55"/><circle cx="57.3" cy="462.6" r="2.6" fill="none" stroke="#0000ff" stroke-width="0.55"/><circle cx="59.0" cy="464.3" r="2.6" fill="none" stroke="#0000ff" stroke-width="0.55"/><circle cx="61.4" cy="466.2" r="2.6" fill="none" stroke="#0000ff" stroke-width="0.55"/><circle cx="62.2" cy="466.8" r="2.6" fill="none" stroke="#0000ff" stroke-width="0.55"/><circle cx="67.3" cy="468.2" r="2.6" fill="none" stroke="#0000ff" stroke-width="0.55"/><circle cx="69.5" cy="469.5" r="2.6" fill="none" stroke="#0000ff" stroke-width="0.55"/><circle cx="71.0" cy="470.4" r="2.6" fill="none" stroke="#0000ff" stroke-width="0.55"/><circle cx="73.9" cy="471.1" r="2.6" fill="none" stroke="#0000ff" stroke-width="0.55"/><circle cx="76.8" cy="472.6" r="2.6" fill="none" stroke="#0000ff" stroke-width="0.55"/><circle cx="78.5" cy="473.8" r="2.6" fill="none" stroke="#0000ff" stroke-width="0.55"/><circle cx="81.2" cy="475.5" r="2.6" fill="none" stroke="#0000ff" stroke-width="0.55"/><path d="M46.9 376.7H52.3M49.6 374.0V379.4" stroke="#ff0000" stroke-width="0.55" fill="none"/><path d="M46.9 384.5H52.3M49.6 381.8V387.2" stroke="#ff0000" stroke-width="0.55" fill="none"/><path d="M46.9 392.7H52.3M49.6 390.0V395.4" stroke="#ff0000" stroke-width="0.55" fill="none"/><path d="M46.9 396.0H52.3M49.6 393.3V398.7" stroke="#ff0000" stroke-width="0.55" fill="none"/><path d="M46.9 399.2H52.3M49.6 396.5V401.9" stroke="#ff0000" stroke-width="0.55" fill="none"/><path d="M46.9 403.9H52.3M49.6 401.2V406.6" stroke="#ff0000" stroke-width="0.55" fill="none"/><path d="M46.9 408.0H52.3M49.6 405.3V410.7" stroke="#ff0000" stroke-width="0.55" fill="none"/><path d="M46.9 421.0H52.3M49.6 418.3V423.7" stroke="#ff0000" stroke-width="0.55" fill="none"/><path d="M46.9 424.0H52.3M49.6 421.3V426.7" stroke="#ff0000" stroke-width="0.55" fill="none"/><path d="M46.8 421.6H52.2M49.5 418.9V424.3" stroke="#ff0000" stroke-width="0.55" fill="none"/><path d="M47.1 425.2H52.5M49.8 422.5V427.9" stroke="#ff0000" stroke-width="0.55" fill="none"/><path d="M47.5 429.0H52.9M50.2 426.3V431.7" stroke="#ff0000" stroke-width="0.55" fill="none"/><path d="M48.1 432.1H53.5M50.8 429.4V434.8" stroke="#ff0000" stroke-width="0.55" fill="none"/><path d="M48.9 436.2H54.3M51.6 433.5V438.9" stroke="#ff0000" stroke-width="0.55" fill="none"/><path d="M50.2 440.7H55.6M52.9 438.0V443.4" stroke="#ff0000" stroke-width="0.55" fill="none"/><path d="M51.1 443.6H56.5M53.8 440.9V446.3" stroke="#ff0000" stroke-width="0.55" fill="none"/><path d="M52.8 449.7H58.2M55.5 447.0V452.4" stroke="#ff0000" stroke-width="0.55" fill="none"/><path d="M53.6 452.5H59.0M56.3 449.8V455.2" stroke="#ff0000" stroke-width="0.55" fill="none"/><path d="M54.7 456.5H60.1M57.4 453.8V459.2" stroke="#ff0000" stroke-width="0.55" fill="none"/><path d="M56.0 460.0H61.4M58.7 457.3V462.7" stroke="#ff0000" stroke-width="0.55" fill="none"/><path d="M56.5 464.1H61.9M59.2 461.4V466.8" stroke="#ff0000" stroke-width="0.55" fill="none"/><path d="M57.7 466.9H63.1M60.4 464.2V469.6" stroke="#ff0000" stroke-width="0.55" fill="none"/><path d="M59.2 468.4H64.6M61.9 465.7V471.1" stroke="#ff0000" stroke-width="0.55" fill="none"/><path d="M64.6 472.3H70.0M67.3 469.6V475.0" stroke="#ff0000" stroke-width="0.55" fill="none"/><path d="M67.7 474.4H73.1M70.4 471.7V477.1" stroke="#ff0000" stroke-width="0.55" fill="none"/><path d="M69.9 476.4H75.3M72.6 473.7V479.1" stroke="#ff0000" stroke-width="0.55" fill="none"/><path d="M72.9 479.0H78.3M75.6 476.3V481.7" stroke="#ff0000" stroke-width="0.55" fill="none"/><path d="M76.6 481.2H82.0M79.3 478.5V483.9" stroke="#ff0000" stroke-width="0.55" fill="none"/><path d="M77.7 482.0H83.1M80.4 479.3V484.7" stroke="#ff0000" stroke-width="0.55" fill="none"/><path d="M92.3 485.0H97.7M95.0 482.3V487.7" stroke="#ff0000" stroke-width="0.55" fill="none"/><path d="M105.8 486.5H111.2M108.5 483.8V489.2" stroke="#ff0000" stroke-width="0.55" fill="none"/><path d="M109.8 487.0H115.2M112.5 484.3V489.7" stroke="#ff0000" stroke-width="0.55" fill="none"/><path d="M123.3 489.0H128.7M126.0 486.3V491.7" stroke="#ff0000" stroke-width="0.55" fill="none"/><path d="M180.3 491.3H185.7M183.0 488.6V494.0" stroke="#ff0000" stroke-width="0.55" fill="none"/><path d="M190.3 493.0H195.7M193.0 490.3V495.7" stroke="#ff0000" stroke-width="0.55" fill="none"/><path d="M290.3 493.0H295.7M293.0 490.3V495.7" stroke="#ff0000" stroke-width="0.55" fill="none"/><path d="M306.3 493.0H311.7M309.0 490.3V495.7" stroke="#ff0000" stroke-width="0.55" fill="none"/><rect x="82.0" y="308.3" width="4.0" height="4.0" fill="none" stroke="#00ff00" stroke-width="0.5"/><rect x="82.0" y="310.7" width="4.0" height="4.0" fill="none" stroke="#00ff00" stroke-width="0.5"/><rect x="82.0" y="311.2" width="4.0" height="4.0" fill="none" stroke="#00ff00" stroke-width="0.5"/><rect x="82.0" y="312.3" width="4.0" height="4.0" fill="none" stroke="#00ff00" stroke-width="0.5"/><rect x="82.0" y="313.9" width="4.0" height="4.0" fill="none" stroke="#00ff00" stroke-width="0.5"/><rect x="82.0" y="316.0" width="4.0" height="4.0" fill="none" stroke="#00ff00" stroke-width="0.5"/><rect x="82.0" y="316.4" width="4.0" height="4.0" fill="none" stroke="#00ff00" stroke-width="0.5"/><rect x="82.0" y="318.6" width="4.0" height="4.0" fill="none" stroke="#00ff00" stroke-width="0.5"/><rect x="82.0" y="320.3" width="4.0" height="4.0" fill="none" stroke="#00ff00" stroke-width="0.5"/><rect x="82.0" y="320.9" width="4.0" height="4.0" fill="none" stroke="#00ff00" stroke-width="0.5"/><rect x="82.0" y="322.0" width="4.0" height="4.0" fill="none" stroke="#00ff00" stroke-width="0.5"/><rect x="82.0" y="323.5" width="4.0" height="4.0" fill="none" stroke="#00ff00" stroke-width="0.5"/><rect x="82.0" y="325.1" width="4.0" height="4.0" fill="none" stroke="#00ff00" stroke-width="0.5"/><rect x="82.0" y="326.6" width="4.0" height="4.0" fill="none" stroke="#00ff00" stroke-width="0.5"/><rect x="82.0" y="327.6" width="4.0" height="4.0" fill="none" stroke="#00ff00" stroke-width="0.5"/><rect x="82.0" y="329.0" width="4.0" height="4.0" fill="none" stroke="#00ff00" stroke-width="0.5"/><rect x="82.0" y="329.4" width="4.0" height="4.0" fill="none" stroke="#00ff00" stroke-width="0.5"/><rect x="82.0" y="330.9" width="4.0" height="4.0" fill="none" stroke="#00ff00" stroke-width="0.5"/><rect x="82.0" y="332.3" width="4.0" height="4.0" fill="none" stroke="#00ff00" stroke-width="0.5"/><rect x="82.0" y="334.4" width="4.0" height="4.0" fill="none" stroke="#00ff00" stroke-width="0.5"/><rect x="82.0" y="335.1" width="4.0" height="4.0" fill="none" stroke="#00ff00" stroke-width="0.5"/><rect x="82.0" y="336.8" width="4.0" height="4.0" fill="none" stroke="#00ff00" stroke-width="0.5"/><rect x="82.0" y="337.2" width="4.0" height="4.0" fill="none" stroke="#00ff00" stroke-width="0.5"/><rect x="82.0" y="338.6" width="4.0" height="4.0" fill="none" stroke="#00ff00" stroke-width="0.5"/><rect x="82.0" y="340.3" width="4.0" height="4.0" fill="none" stroke="#00ff00" stroke-width="0.5"/><rect x="82.0" y="342.2" width="4.0" height="4.0" fill="none" stroke="#00ff00" stroke-width="0.5"/><rect x="82.0" y="343.6" width="4.0" height="4.0" fill="none" stroke="#00ff00" stroke-width="0.5"/><rect x="82.0" y="344.9" width="4.0" height="4.0" fill="none" stroke="#00ff00" stroke-width="0.5"/><rect x="82.0" y="345.6" width="4.0" height="4.0" fill="none" stroke="#00ff00" stroke-width="0.5"/><rect x="82.0" y="347.3" width="4.0" height="4.0" fill="none" stroke="#00ff00" stroke-width="0.5"/><rect x="82.0" y="348.5" width="4.0" height="4.0" fill="none" stroke="#00ff00" stroke-width="0.5"/><rect x="82.0" y="349.8" width="4.0" height="4.0" fill="none" stroke="#00ff00" stroke-width="0.5"/><rect x="82.0" y="350.6" width="4.0" height="4.0" fill="none" stroke="#00ff00" stroke-width="0.5"/><rect x="82.0" y="353.1" width="4.0" height="4.0" fill="none" stroke="#00ff00" stroke-width="0.5"/><rect x="82.0" y="309.0" width="4.0" height="4.0" fill="none" stroke="#00ff00" stroke-width="0.5"/><rect x="82.0" y="352.5" width="4.0" height="4.0" fill="none" stroke="#00ff00" stroke-width="0.5"/><path d="M52.1 387.0H56.4M54.3 384.9V389.1M52.8 385.5L55.8 388.5M52.8 388.5L55.8 385.5" stroke="#ffa500" stroke-width="0.6" fill="none"/><path d="M52.1 392.7H56.4M54.3 390.6V394.8M52.8 391.2L55.8 394.2M52.8 394.2L55.8 391.2" stroke="#ffa500" stroke-width="0.6" fill="none"/><path d="M52.1 399.0H56.4M54.3 396.9V401.1M52.8 397.5L55.8 400.5M52.8 400.5L55.8 397.5" stroke="#ffa500" stroke-width="0.6" fill="none"/><path d="M52.1 405.0H56.4M54.3 402.9V407.1M52.8 403.5L55.8 406.5M52.8 406.5L55.8 403.5" stroke="#ffa500" stroke-width="0.6" fill="none"/><path d="M52.1 409.0H56.4M54.3 406.9V411.1M52.8 407.5L55.8 410.5M52.8 410.5L55.8 407.5" stroke="#ffa500" stroke-width="0.6" fill="none"/><path d="M52.4 416.5H56.6M54.5 414.4V418.6M53.0 415.0L56.0 418.0M53.0 418.0L56.0 415.0" stroke="#ffa500" stroke-width="0.6" fill="none"/><path d="M52.8 423.0H57.0M54.9 420.9V425.1M53.4 421.5L56.4 424.5M53.4 424.5L56.4 421.5" stroke="#ffa500" stroke-width="0.6" fill="none"/><path d="M53.2 428.1H57.5M55.4 426.0V430.2M53.9 426.6L56.9 429.6M53.9 429.6L56.9 426.6" stroke="#ffa500" stroke-width="0.6" fill="none"/><path d="M56.5 431.0H60.8M58.6 428.9V433.1M57.1 429.5L60.1 432.5M57.1 432.5L60.1 429.5" stroke="#ffa500" stroke-width="0.6" fill="none"/><path d="M57.6 431.8H61.9M59.8 429.7V433.9M58.3 430.3L61.3 433.3M58.3 433.3L61.3 430.3" stroke="#ffa500" stroke-width="0.6" fill="none"/><path d="M58.6 432.5H62.9M60.8 430.4V434.6M59.3 431.0L62.3 434.0M59.3 434.0L62.3 431.0" stroke="#ffa500" stroke-width="0.6" fill="none"/><path d="M61.4 435.0H65.7M63.5 432.9V437.1M62.0 433.5L65.0 436.5M62.0 436.5L65.0 433.5" stroke="#ffa500" stroke-width="0.6" fill="none"/><path d="M62.9 436.9H67.2M65.1 434.8V439.0M63.6 435.4L66.6 438.4M63.6 438.4L66.6 435.4" stroke="#ffa500" stroke-width="0.6" fill="none"/><path d="M64.4 438.3H68.8M66.6 436.2V440.4M65.1 436.8L68.1 439.8M65.1 439.8L68.1 436.8" stroke="#ffa500" stroke-width="0.6" fill="none"/><path d="M68.0 440.5H72.4M70.2 438.4V442.6M68.7 439.0L71.7 442.0M68.7 442.0L71.7 439.0" stroke="#ffa500" stroke-width="0.6" fill="none"/><path d="M73.1 441.5H77.5M75.3 439.4V443.6M73.8 440.0L76.8 443.0M73.8 443.0L76.8 440.0" stroke="#ffa500" stroke-width="0.6" fill="none"/><path d="M51.7 403.0L55.7 407.0M51.7 407.0L55.7 403.0" stroke="#ff00ff" stroke-width="0.7" fill="none"/><path d="M51.7 404.3L55.7 408.3M51.7 408.3L55.7 404.3" stroke="#ff00ff" stroke-width="0.7" fill="none"/><path d="M51.7 405.6L55.7 409.6M51.7 409.6L55.7 405.6" stroke="#ff00ff" stroke-width="0.7" fill="none"/><path d="M51.7 407.0L55.7 411.0M51.7 411.0L55.7 407.0" stroke="#ff00ff" stroke-width="0.7" fill="none"/><path d="M51.7 408.4L55.7 412.4M51.7 412.4L55.7 408.4" stroke="#ff00ff" stroke-width="0.7" fill="none"/><path d="M51.7 409.5L55.7 413.5M51.7 413.5L55.7 409.5" stroke="#ff00ff" stroke-width="0.7" fill="none"/><path d="M51.7 410.3L55.7 414.3M51.7 414.3L55.7 410.3" stroke="#ff00ff" stroke-width="0.7" fill="none"/></g>
<rect x="274.5" y="292.5" width="54.0" height="61.10000000000002" fill="#fff" stroke="#6a6a6a" stroke-width="0.6"/>
<circle cx="286.3" cy="300.5" r="2.6" fill="none" stroke="#0000ff" stroke-width="0.55"/>
<text x="297.5" y="303.5" font-size="9.8" textLength="17.8" lengthAdjust="spacingAndGlyphs">MPA</text>
<path d="M283.5 312.2H289.1M286.3 309.4V315.0" stroke="#ff0000" stroke-width="0.55" fill="none"/>
<text x="297.5" y="315.2" font-size="9.8" textLength="15.7" lengthAdjust="spacingAndGlyphs">PSO</text>
<rect x="284.1" y="321.4" width="4.4" height="4.4" fill="none" stroke="#00ff00" stroke-width="0.6"/>
<text x="297.5" y="326.6" font-size="9.8" textLength="28.0" lengthAdjust="spacingAndGlyphs">PESA-II</text>
<path d="M284.7 333.5L287.9 336.7M284.7 336.7L287.9 333.5" stroke="#ff00ff" stroke-width="0.6" fill="none"/>
<text x="297.5" y="338.1" font-size="9.8" textLength="23.5" lengthAdjust="spacingAndGlyphs">SPEA2</text>
<path d="M284.3 346.8H288.3M286.3 344.8V348.8M284.9 345.4L287.7 348.2M284.9 348.2L287.7 345.4" stroke="#ffa500" stroke-width="0.6" fill="none"/>
<text x="297.5" y="349.8" font-size="9.8" textLength="14.3" lengthAdjust="spacingAndGlyphs">SSA</text>
<text x="189.5" y="529.8" text-anchor="middle" font-size="10.5">Cost ($/h)</text>
<text x="183" y="545.6" text-anchor="middle" font-size="10.5">(<tspan font-weight="bold">c</tspan>)</text>
<text transform="translate(12.6,396.4) rotate(-90)" text-anchor="middle" font-size="10.5" textLength="14.6" lengthAdjust="spacingAndGlyphs">VSI</text>
</svg>
</body></html>
